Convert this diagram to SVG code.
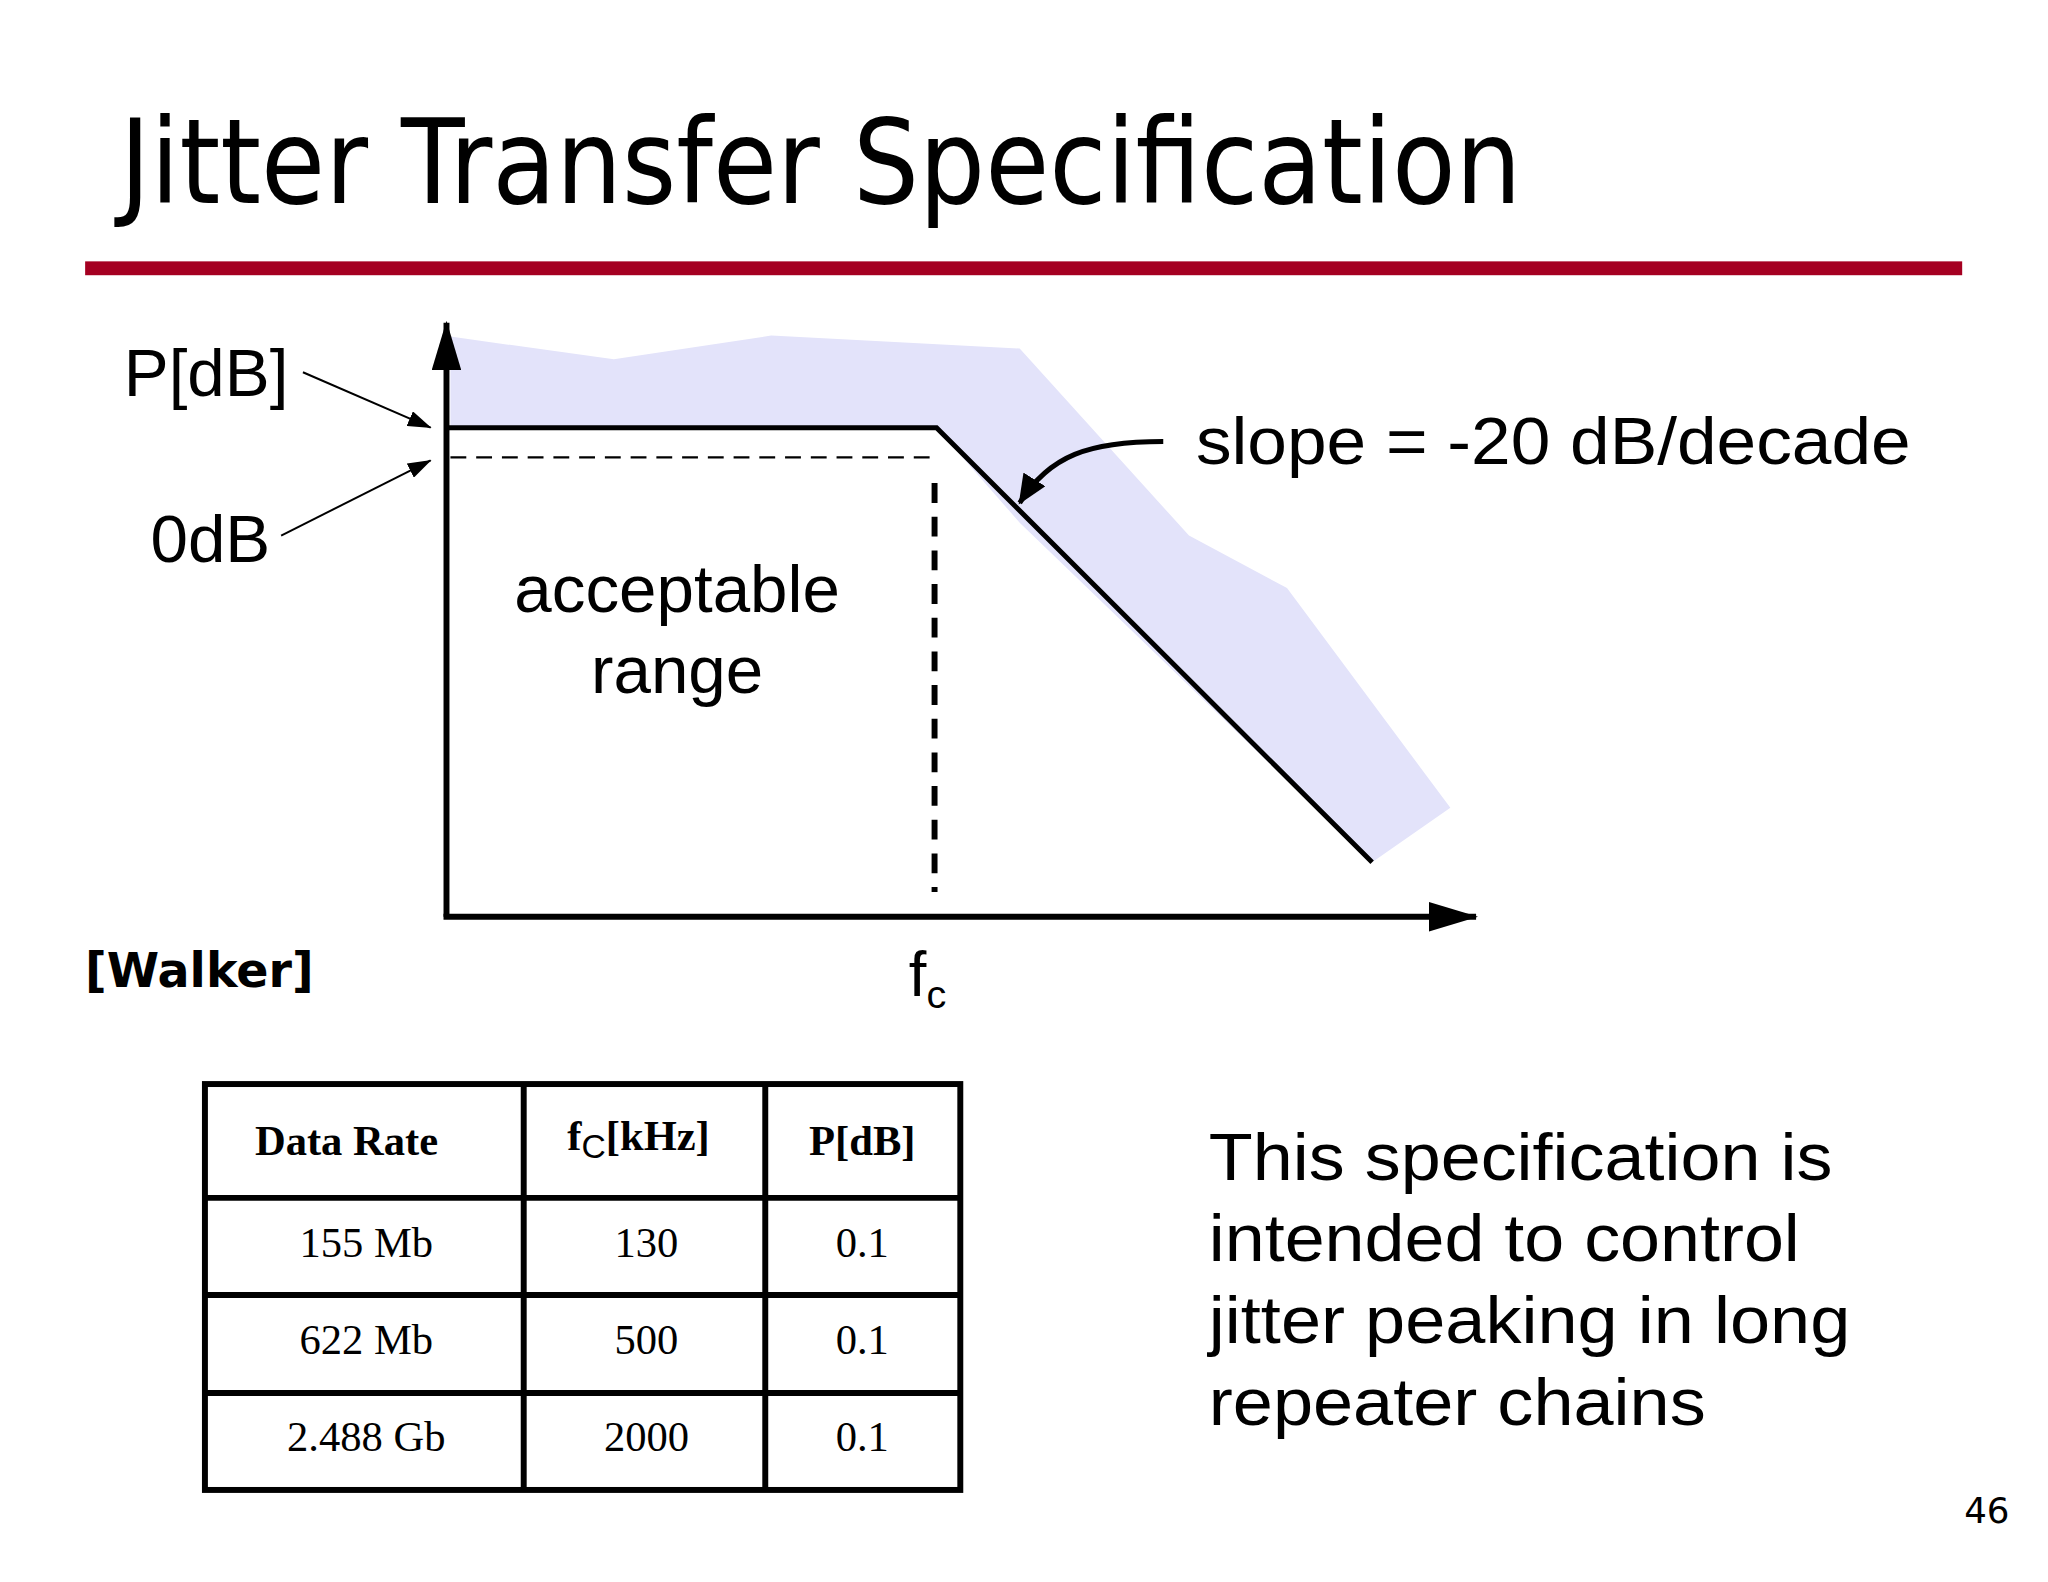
<svg xmlns="http://www.w3.org/2000/svg" width="2048" height="1582" viewBox="0 0 2048 1582">
<style>
.s{font-family:"Liberation Sans",Arial,sans-serif;fill:#000}
.t{font-family:"Liberation Serif","Times New Roman",serif;fill:#000;font-size:43px;text-anchor:middle}
.ln{stroke:#000;fill:none}
</style>
<defs>
<marker id="ah" markerWidth="24" markerHeight="16" refX="23" refY="8" orient="auto" markerUnits="userSpaceOnUse" viewBox="0 0 24 16">
<path d="M0,0 L24,8 L0,16 Z" fill="#000"/></marker>
<marker id="ax" markerWidth="50" markerHeight="30" refX="48" refY="15" orient="auto" markerUnits="userSpaceOnUse" viewBox="0 0 50 30">
<path d="M0,0 L50,15 L0,30 Z" fill="#000"/></marker>
<marker id="sm" markerWidth="30" markerHeight="26" refX="28" refY="13" orient="auto" markerUnits="userSpaceOnUse" viewBox="0 0 30 26">
<path d="M0,0 L30,13 L0,26 Z" fill="#000"/></marker>
</defs>
<rect width="2048" height="1582" fill="#fff"/>
<g transform="scale(0.99)">
<text x="121" y="205" font-family="DejaVu Sans,Verdana,sans-serif" font-size="118" textLength="1416" lengthAdjust="spacingAndGlyphs">Jitter Transfer Specification</text>
<rect x="86" y="264" width="1896" height="14" fill="#a50021"/>
<g id="plot">
<polygon points="455,340 620,363 779,339 1030,352 1201,541 1300,594 1465,816 1386,871 1030,528 946,432 455,432" fill="#e3e3fa"/>
</g>
<g id="connectors">
<line class="ln" x1="451" y1="926" x2="451" y2="326" stroke-width="6" marker-end="url(#ax)"/>
<line class="ln" x1="448" y1="926" x2="1491" y2="926" stroke-width="6" marker-end="url(#ax)"/>
<polyline class="ln" points="451,432 946,432 1386,871" stroke-width="5"/>
<line class="ln" x1="455" y1="462" x2="946" y2="462" stroke-width="2.5" stroke-dasharray="16,10"/>
<line class="ln" x1="944" y1="488" x2="944" y2="901" stroke-width="6" stroke-dasharray="20,14"/>
<line class="ln" x1="306" y1="376" x2="435" y2="432" stroke-width="2" marker-end="url(#ah)"/>
<line class="ln" x1="284" y1="541" x2="435" y2="465" stroke-width="2" marker-end="url(#ah)"/>
<path class="ln" d="M1175,446 C1100,446 1060,460 1030,508" stroke-width="5" marker-end="url(#sm)"/>
</g>
<g id="labels">
<text class="s" x="125" y="400" font-size="68">P[dB]</text>
<text class="s" x="152" y="568" font-size="68">0dB</text>
<text class="s" x="684" y="618" font-size="68" text-anchor="middle">acceptable</text>
<text class="s" x="684" y="700" font-size="68" text-anchor="middle">range</text>
<text class="s" x="1208" y="469" font-size="68" textLength="722" lengthAdjust="spacingAndGlyphs">slope = -20 dB/decade</text>
<text class="s" x="918" y="1006" font-size="64">f<tspan font-size="40" dy="12">c</tspan></text>
<text x="86" y="997" font-family="DejaVu Sans,Verdana,sans-serif" font-weight="bold" font-size="48">[Walker]</text>
</g>
<g id="table">
<rect x="207" y="1095" width="763" height="410" fill="none" stroke="#000" stroke-width="6"/>
<line class="ln" stroke-width="6" x1="529" y1="1095" x2="529" y2="1505"/>
<line class="ln" stroke-width="6" x1="773" y1="1095" x2="773" y2="1505"/>
<line class="ln" stroke-width="6" x1="207" y1="1210" x2="970" y2="1210"/>
<line class="ln" stroke-width="6" x1="207" y1="1308" x2="970" y2="1308"/>
<line class="ln" stroke-width="6" x1="207" y1="1407" x2="970" y2="1407"/>
<text class="t" x="350" y="1167" font-weight="bold">Data Rate</text>
<text class="t" x="645" y="1162" font-weight="bold">f<tspan font-family="Liberation Sans,sans-serif" font-weight="normal" font-size="34" dy="8">C</tspan><tspan dy="-8">[kHz]</tspan></text>
<text class="t" x="871" y="1167" font-weight="bold">P[dB]</text>
<text class="t" x="370" y="1270">155 Mb</text><text class="t" x="653" y="1270">130</text><text class="t" x="871" y="1270">0.1</text>
<text class="t" x="370" y="1368">622 Mb</text><text class="t" x="653" y="1368">500</text><text class="t" x="871" y="1368">0.1</text>
<text class="t" x="370" y="1466">2.488 Gb</text><text class="t" x="653" y="1466">2000</text><text class="t" x="871" y="1466">0.1</text>
</g>
<g id="note">
<text class="s" x="1221" y="1192" font-size="68" textLength="630" lengthAdjust="spacingAndGlyphs">This specification is</text>
<text class="s" x="1221" y="1274" font-size="68" textLength="597" lengthAdjust="spacingAndGlyphs">intended to control</text>
<text class="s" x="1221" y="1357" font-size="68" textLength="648" lengthAdjust="spacingAndGlyphs">jitter peaking in long</text>
<text class="s" x="1221" y="1439" font-size="68" textLength="502" lengthAdjust="spacingAndGlyphs">repeater chains</text>
</g>
<text x="1984" y="1538" font-family="DejaVu Sans,Verdana,sans-serif" font-size="36">46</text>
</g>
</svg>
